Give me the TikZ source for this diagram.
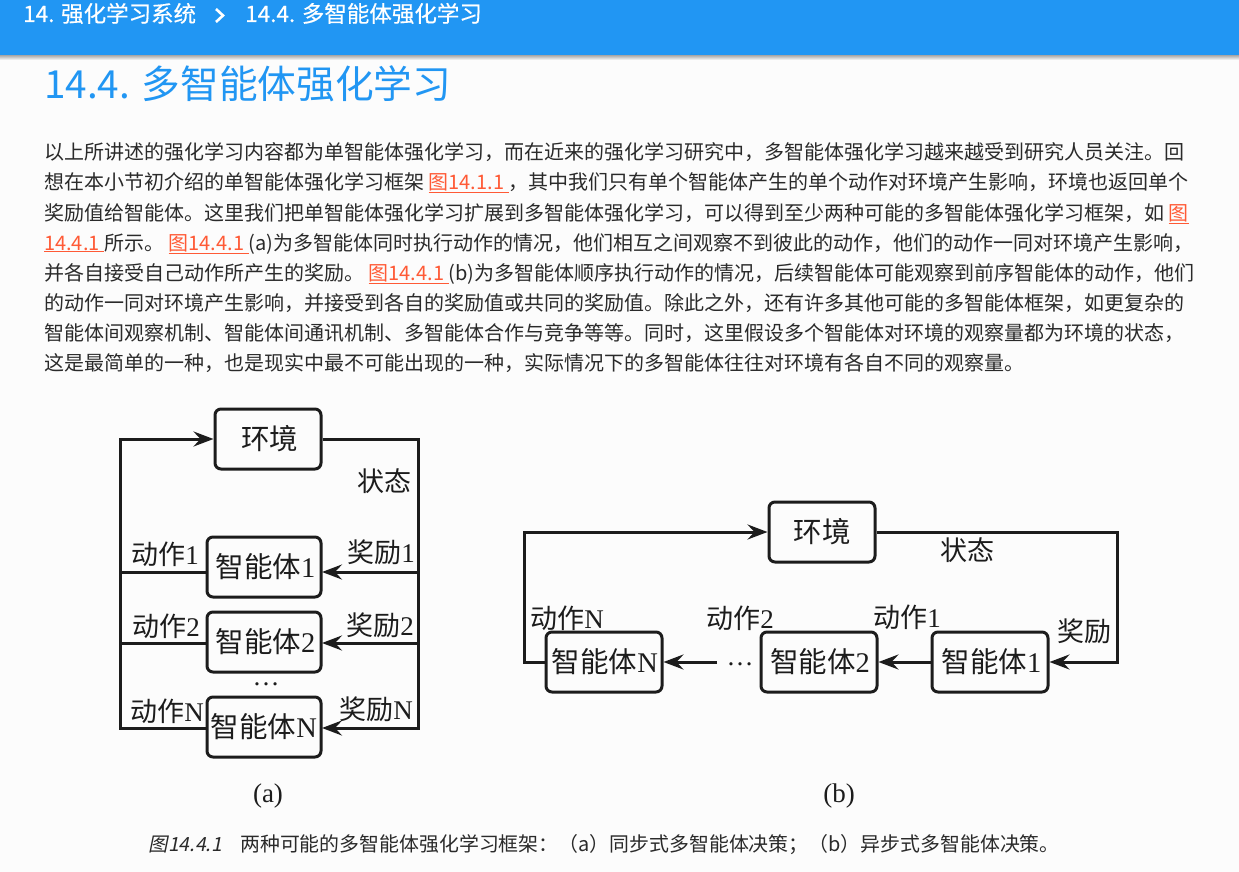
\documentclass[tikz,border=0pt]{standalone}
\usepackage{fontspec}
\setmainfont{Noto Sans CJK SC}
\newfontfamily\latf{Liberation Serif}
\newfontfamily\slantf[FakeSlant=0.2]{Noto Sans CJK SC}
\newfontfamily\hdrf[FakeBold=0.4]{Noto Sans CJK SC}
\usetikzlibrary{arrows.meta,calc}
\definecolor{hdrblue}{HTML}{2196F3}
\definecolor{linkc}{HTML}{FF5A36}
\definecolor{bodyc}{HTML}{2A2A2A}
\definecolor{pagebg}{HTML}{FCFCFC}
\definecolor{inkc}{HTML}{1C1C1C}
\newcommand{\lnk}[1]{\textcolor{linkc}{\underline{#1}}}
\newcommand{\fsz}[1]{\fontsize{#1}{#1}\selectfont}
\newcommand{\agt}[1]{\raisebox{-3pt}{#1}}
\tikzset{
  x=1pt,y=-1pt,
  bodyline/.style={anchor=base west,inner sep=0pt,text=bodyc,font=\fsz{20}},
  hdrtext/.style={anchor=base west,inner sep=0pt,text=white,font=\hdrf\fsz{22.5}},
  agentbox/.style={draw=inkc,line width=3pt,rounded corners=6pt,fill=pagebg,minimum width=114pt,minimum height=60pt,inner sep=0pt,text=inkc,font=\fsz{28.5}},
  envbox/.style={agentbox,minimum width=106pt},
  lbl/.style={inner sep=0pt,text=inkc,font=\fsz{27}},
  capt/.style={inner sep=0pt,text=inkc,font=\latf\fsz{27}},
  wire/.style={draw=inkc,line width=3pt},
  arr/.style={wire,-{Stealth[length=20pt,width=15pt,inset=7pt]}},
}
\begin{document}
\begin{tikzpicture}
\useasboundingbox (0,0) rectangle (1239,872);
\fill[pagebg] (0,0) rectangle (1239,872);
% header
\shade[top color=black!35,bottom color=pagebg] (0,55) rectangle (1239,60);
\fill[hdrblue] (0,0) rectangle (1239,55);
\node[hdrtext] (crumbA) at (23,22) {14. 强化学习系统};
\draw[white,line width=2.6pt] (216,9) -- (223,15.5) -- (216,22);
\node[hdrtext] (crumbB) at (245,22) {14.4. 多智能体强化学习};
\node[anchor=base west,inner sep=0pt,text=hdrblue,font=\fsz{38.7}] (title) at (44,99) {14.4. 多智能体强化学习};
% body text
\node[bodyline] (l1) at (44,159) {以上所讲述的强化学习内容都为单智能体强化学习，而在近来的强化学习研究中，多智能体强化学习越来越受到研究人员关注。回};
\node[bodyline] (l2) at (44,189) {想在本小节初介绍的单智能体强化学习框架 \lnk{图14.1.1 }，其中我们只有单个智能体产生的单个动作对环境产生影响，环境也返回单个};
\node[bodyline] (l3) at (44,220) {奖励值给智能体。这里我们把单智能体强化学习扩展到多智能体强化学习，可以得到至少两种可能的多智能体强化学习框架，如 \lnk{图}};
\node[bodyline] (l4) at (44,250) {\lnk{14.4.1 }所示。 \lnk{图14.4.1 }(a)为多智能体同时执行动作的情况，他们相互之间观察不到彼此的动作，他们的动作一同对环境产生影响，};
\node[bodyline] (l5) at (44,280) {并各自接受自己动作所产生的奖励。 \lnk{图14.4.1 }(b)为多智能体顺序执行动作的情况，后续智能体可能观察到前序智能体的动作，他们};
\node[bodyline] (l6) at (44,310) {的动作一同对环境产生影响，并接受到各自的奖励值或共同的奖励值。除此之外，还有许多其他可能的多智能体框架，如更复杂的};
\node[bodyline] (l7) at (44,340) {智能体间观察机制、智能体间通讯机制、多智能体合作与竞争等等。同时，这里假设多个智能体对环境的观察量都为环境的状态，};
\node[bodyline] (l8) at (44,370) {这是最简单的一种，也是现实中最不可能出现的一种，实际情况下的多智能体往往对环境有各自不同的观察量。};
% diagram (a)
\node[envbox] (envA) at (268,439) {\hspace{3pt}\agt{环境}};
\node[agentbox] (a1) at (264,567) {\hspace{3pt}\agt{智能体{\latf 1}}};
\node[agentbox] (a2) at (264,642) {\hspace{3pt}\agt{智能体{\latf 2}}};
\node[agentbox] (aN) at (264,727) {\agt{智能体{\latf N}}};
\coordinate (lbus) at (120,439);
\coordinate (rbus) at (418,439);
\coordinate (a1w) at (207,572);
\coordinate (a2w) at (207,643);
\coordinate (aNw) at (207,728);
\coordinate (a1e) at (322,572);
\coordinate (a2e) at (322,643);
\coordinate (aNe) at (322,728);
\draw[arr] (aNw) -- (lbus |- aNw) -- (lbus) -- (envA.west);
\draw[wire] (a1w) -- (lbus |- a1w);
\draw[wire] (a2w) -- (lbus |- a2w);
\draw[arr] (envA.east) -- (rbus) -- (rbus |- aNe) -- (aNe);
\draw[arr] (rbus |- a1e) -- (a1e);
\draw[arr] (rbus |- a2e) -- (a2e);
\node[lbl] (tA) at (384,481) {状态};
\node[lbl] (ra1) at (381,552) {奖励{\latf 1}};
\node[lbl] (ra2) at (380,625) {奖励{\latf 2}};
\node[lbl] (raN) at (376,709) {奖励{\latf N}};
\node[lbl] (da1) at (165,554) {动作{\latf 1}};
\node[lbl] (da2) at (166,626) {动作{\latf 2}};
\node[lbl] (daN) at (167,711) {动作{\latf N}};
\node[capt] (dotsA) at (266,684) {…};
\node[capt] (capA) at (268,796) {(a)};
% diagram (b)
\node[envbox] (envB) at (822,532) {\agt{环境}};
\node[agentbox,minimum width=116pt] (b1) at (990,662) {\hspace{3pt}\agt{智能体{\latf 1}}};
\node[agentbox,minimum width=116pt] (b2) at (819,662) {\hspace{2pt}\agt{智能体{\latf 2}}};
\node[agentbox,minimum width=116pt] (bN) at (604,662) {\hspace{2pt}\agt{智能体{\latf N}}};
\coordinate (lcor) at (524,532);
\coordinate (rcor) at (1117,532);
\node[capt] (dotsB) at (740,664) {…};
\coordinate (dotsW) at (717,662);
\draw[arr] (bN.west) -- (lcor |- bN.west) -- (lcor) -- (envB.west);
\draw[arr] (envB.east) -- (rcor) -- (rcor |- b1.east) -- (b1.east);
\draw[arr] (b1.west) -- (b2.east);
\draw[arr] (dotsW) -- (bN.east);
\node[lbl] (tB) at (967,550) {状态};
\node[lbl] (rb) at (1084,631) {奖励};
\node[lbl] (db1) at (907,617) {动作{\latf 1}};
\node[lbl] (db2) at (740,618) {动作{\latf 2}};
\node[lbl] (dbN) at (567,618) {动作{\latf N}};
\node[capt] (capB) at (839,796) {(b)};
% figure caption
\node[anchor=base west,inner sep=0pt,text=bodyc,font=\fsz{19.9}] (figcap) at (144,851) {{\slantf\fsz{19.5} 图14.4.1}\hspace{18pt}两种可能的多智能体强化学习框架：（a）同步式多智能体决策；（b）异步式多智能体决策。};
\end{tikzpicture}
\end{document}
